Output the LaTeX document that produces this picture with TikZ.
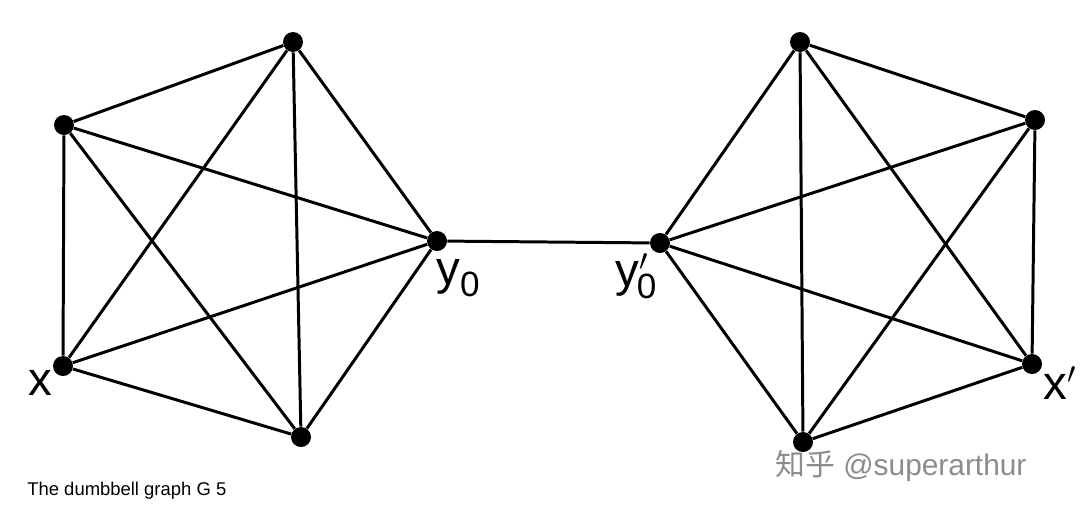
\documentclass[tikz,border=0pt]{standalone}
\usepackage{fontspec}
\setmainfont{Liberation Sans}
\newfontfamily\cjk{Noto Sans CJK SC}
\begin{document}
\begin{tikzpicture}[x=0.02cm,y=-0.02cm,
  vtx/.style={circle,fill=black,inner sep=0pt,minimum size=0.4cm},
  edge/.style={line width=1.7pt},
  lab/.style={font=\fontsize{27}{30}\selectfont,inner sep=0pt}]
\useasboundingbox (0,0) rectangle (1091,518);
\node[vtx] (a) at (293,42) {};
\node[vtx] (b) at (64,125) {};
\node[vtx] (c) at (437,241) {};
\node[vtx] (x) at (63,366) {};
\node[vtx] (d) at (301,437) {};
\node[vtx] (e) at (800,42) {};
\node[vtx] (f) at (1035,120) {};
\node[vtx] (g) at (660,243) {};
\node[vtx] (xp) at (1032,364) {};
\node[vtx] (h) at (803,442) {};
\foreach \u/\v in {a/b,a/c,a/x,a/d,b/c,b/x,b/d,c/x,c/d,x/d,
  e/f,e/g,e/xp,e/h,f/g,f/xp,f/h,g/xp,g/h,xp/h,c/g}
  \draw[edge] (\u) -- (\v);
\node[lab] (lx) at (40,383) {x};
\node[lab] (lxp) at (1060,383) {x$'$};
\node[lab] (ly) at (458,278) {y\raisebox{-0.25em}{\fontsize{20}{22}\selectfont 0}};
\node[lab] (lyp) at (636,276) {y$'$\kern-0.25em\raisebox{-0.25em}{\fontsize{20}{22}\selectfont 0}};
\node[anchor=west,inner sep=0pt,font=\fontsize{10.5}{12}\selectfont] (cap) at (27,491) {The dumbbell graph G 5};
\node[anchor=west,inner sep=0pt,text=black!45,font=\fontsize{17}{20}\selectfont] (wm) at (775,466) {{\cjk 知乎} @superarthur};
\end{tikzpicture}
\end{document}
